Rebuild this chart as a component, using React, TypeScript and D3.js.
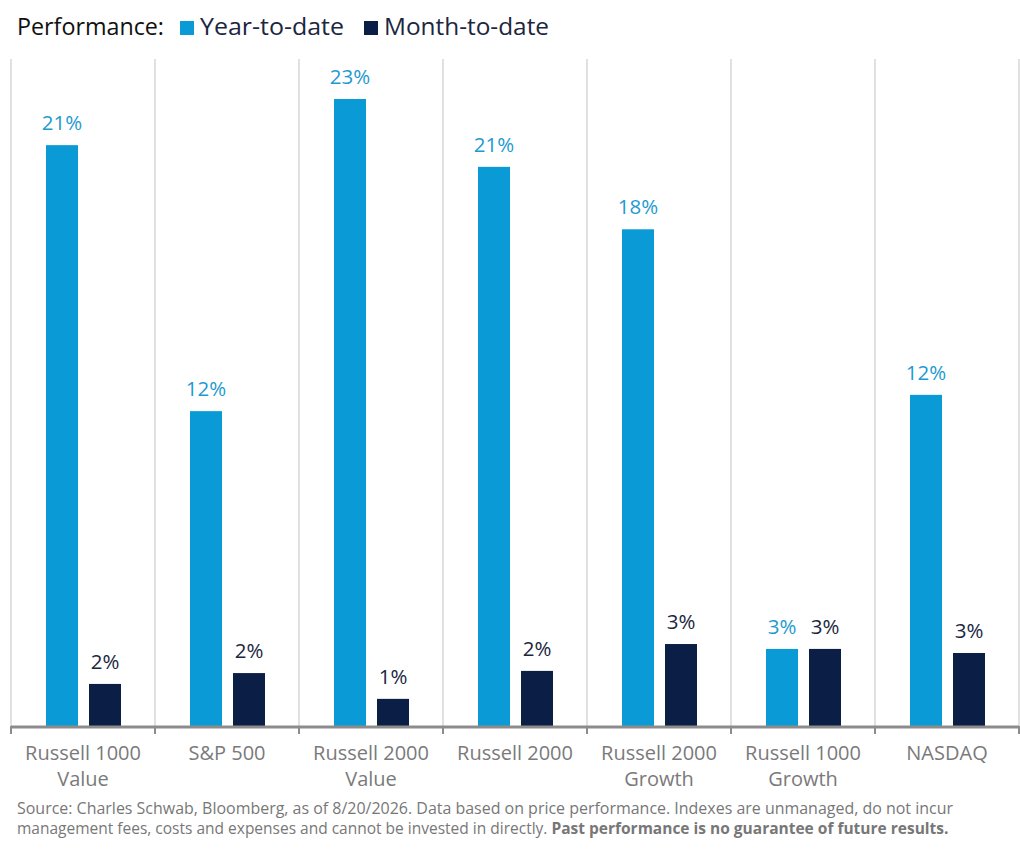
import React from "react";
import * as d3 from "d3";

const categories = ["Russell 1000|Value", "S&P 500", "Russell 2000|Value", "Russell 2000", "Russell 2000|Growth", "Russell 1000|Growth", "NASDAQ"];
const seriesNames = ["Year-to-date", "Month-to-date"];
const ytd = [21.4, 11.6, 23.1, 20.6, 18.3, 2.84, 12.2];
const mtd = [1.55, 1.95, 1.0, 2.03, 3.02, 2.84, 2.69];
const colors = ["#0A9BD6", "#0B1E45"];
const labelColors = ["#1E9AD0", "#1B2640"];

const W = 1020;
const H = 849;
const FONT = "'Open Sans', Roboto, 'Liberation Sans', Arial, sans-serif";

export default function App() {
  const x = d3.scaleBand<string>().domain(categories).range([11, 1019]).padding(0);
  const inner = d3.scaleBand<string>().domain(seriesNames).range([35, 110]).paddingInner(0.256).paddingOuter(0);
  const y = d3.scaleLinear().domain([0, 23.1]).range([726, 99]);
  const data = [ytd, mtd];
  const edges = [...categories.map((c) => x(c) as number), 1019];

  return (
    <svg width={W} height={H} style={{ position: "absolute", left: 0, top: 0, background: "#fff" }} fontFamily={FONT}>
      <rect x={0} y={0} width={W} height={H} fill="#fff" />
      {/* Title and legend */}
      <text x={17} y={35} fontSize={24.5} fill="#111" textLength={147} lengthAdjust="spacingAndGlyphs">Performance:</text>
      <rect x={180} y={21} width={14} height={14} fill={colors[0]} />
      <text x={200} y={35} fontSize={24.5} fill="#1B2640" textLength={144} lengthAdjust="spacingAndGlyphs">{seriesNames[0]}</text>
      <rect x={364} y={21} width={14} height={14} fill={colors[1]} />
      <text x={384} y={35} fontSize={24.5} fill="#1B2640" textLength={165} lengthAdjust="spacingAndGlyphs">{seriesNames[1]}</text>

      {/* gridlines */}
      {edges.map((e, i) => (
        <line key={"g" + i} x1={e} x2={e} y1={59} y2={726} stroke="#cdcdcd" strokeWidth={1.2} />
      ))}

      {/* bars */}
      {categories.map((c, ci) =>
        seriesNames.map((s, si) => {
          const v = data[si][ci];
          const bx = (x(c) as number) + (inner(s) as number);
          const bw = inner.bandwidth();
          return (
            <g key={c + s}>
              <rect x={bx} y={y(v)} width={bw} height={y(0) - y(v)} fill={colors[si]} />
              <text x={bx + bw / 2} y={y(v) - 15} textAnchor="middle" fontSize={20.5} fill={labelColors[si]}>
                {Math.round(v) + "%"}
              </text>
            </g>
          );
        })
      )}

      {/* axis */}
      <line x1={11} x2={1019} y1={727} y2={727} stroke="#8c8c8c" strokeWidth={3} />
      {edges.map((e, i) => (
        <line key={"t" + i} x1={e} x2={e} y1={726} y2={734} stroke="#8c8c8c" strokeWidth={2} />
      ))}

      {/* category labels */}
      {categories.map((c) => {
        const lines = c.split("|");
        const cx = (x(c) as number) + x.bandwidth() / 2;
        return (
          <text key={"l" + c} x={cx} textAnchor="middle" fontSize={20} fill="#7a7a7a">
            {lines.map((ln, i) => (
              <tspan key={i} x={cx} y={760 + i * 26}>{ln}</tspan>
            ))}
          </text>
        );
      })}

      {/* footer */}
      <text x={17} y={814} fontSize={15.5} fill="#777" textLength={936} lengthAdjust="spacingAndGlyphs">
        Source: Charles Schwab, Bloomberg, as of 8/20/2026. Data based on price performance. Indexes are unmanaged, do not incur
      </text>
      <text x={17} y={834} fontSize={15.5} fill="#777">
        management fees, costs and expenses and cannot be invested in directly. <tspan fontWeight="bold">Past performance is no guarantee of future results.</tspan>
      </text>
    </svg>
  );
}
